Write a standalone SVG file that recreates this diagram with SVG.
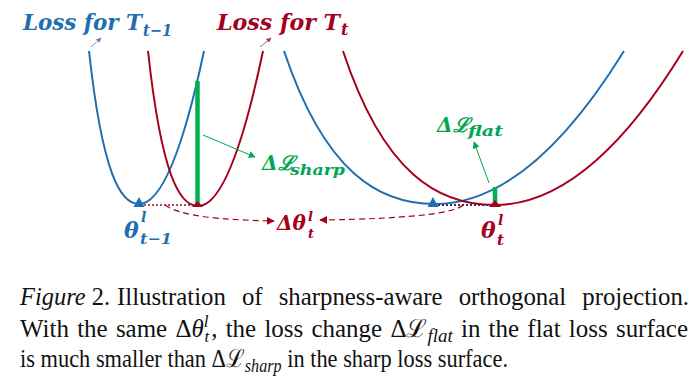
<svg xmlns="http://www.w3.org/2000/svg" width="691" height="384" viewBox="0 0 691 384">
<style>
.m{font-family:"DejaVu Serif","Liberation Serif",serif;font-weight:bold;font-style:italic}
.blue{fill:#1f6eb0}
.red{fill:#a5001e}
.green{fill:#00a651}
.cb{fill:none;stroke:#1f6eb0;stroke-width:2}
.cr{fill:none;stroke:#a5001e;stroke-width:2}
.cap{font-family:"Liberation Serif","DejaVu Serif",serif;font-size:25px;fill:#111}
</style>
<defs>
<marker id="ah" viewBox="0 0 10 10" refX="9" refY="5" markerWidth="7" markerHeight="7" orient="auto" markerUnits="userSpaceOnUse"><path d="M0 0L10 5L0 10z" fill="#00a651"/></marker>
<marker id="ar" viewBox="0 0 10 10" refX="9" refY="5" markerWidth="8" markerHeight="8" orient="auto" markerUnits="userSpaceOnUse"><path d="M0 0L10 5L0 10z" fill="#a5001e"/></marker>
<marker id="ab" viewBox="0 0 10 10" refX="9" refY="5" markerWidth="5" markerHeight="5" orient="auto" markerUnits="userSpaceOnUse"><path d="M0 0L10 5L0 10z" fill="#5a7fa8"/></marker>
<marker id="arr" viewBox="0 0 10 10" refX="9" refY="5" markerWidth="5" markerHeight="5" orient="auto" markerUnits="userSpaceOnUse"><path d="M0 0L10 5L0 10z" fill="#9a4040"/></marker>
</defs>
<rect width="691" height="384" fill="#fff"/>

<g id="curves">
<path id="blue-sharp" class="cb" d="M89 51C102.5 174 120.5 204 139 204Q171.5 204 204 51"/>
<path id="red-sharp" class="cr" d="M148 51C161.5 175 179.5 206 198 206Q230.5 206 263 51"/>
<path id="blue-flat" class="cb" d="M284 51C325 173 379 204 435 204Q529.5 204 624 51"/>
<path id="red-flat" class="cr" d="M343 51C384 175 439 205 495 205Q589 205 683 51"/>
</g>

<g id="connectors">
<line x1="197.5" y1="81" x2="197.5" y2="205" stroke="#00b050" stroke-width="4.5"/>
<line x1="495" y1="187" x2="495" y2="205" stroke="#00b050" stroke-width="4.5"/>
<line x1="203" y1="135" x2="255" y2="157" stroke="#00a651" stroke-width="1" marker-end="url(#ah)"/>
<line x1="489" y1="183" x2="474" y2="142" stroke="#00a651" stroke-width="1" marker-end="url(#ah)"/>
<line x1="144" y1="205" x2="193" y2="205" stroke="#8b1a2b" stroke-width="1.5" stroke-dasharray="2 2"/>
<line x1="438" y1="205" x2="490" y2="205" stroke="#3a2f5a" stroke-width="1.8" stroke-dasharray="2 2"/>
<path d="M165 205C180 216 220 220 274 221" fill="none" stroke="#a5001e" stroke-width="1.2" stroke-dasharray="6 4" marker-end="url(#ar)"/>
<path d="M463 205C455 214 400 219 320 220" fill="none" stroke="#a5001e" stroke-width="1.2" stroke-dasharray="6 4" marker-end="url(#ar)"/>
<line x1="91" y1="47" x2="101" y2="38" stroke="#5a7fa8" stroke-width="0.8" marker-end="url(#ab)"/>
<line x1="260" y1="47" x2="271" y2="38" stroke="#9a4040" stroke-width="0.8" marker-end="url(#arr)"/>
</g>

<g id="markers">
<polygon points="139,197 133.5,207 144.5,207" fill="#1f6eb0"/>
<polygon points="197.5,201 192,207 203,207" fill="#a5001e"/>
<polygon points="433,197 427.5,207 438.5,207" fill="#1f6eb0"/>
<polygon points="495,200 489,207 501,207" fill="#a5001e"/>
</g>

<g id="title-prev">
<text class="m blue" x="23" y="30" font-size="22" textLength="119" lengthAdjust="spacingAndGlyphs">Loss for T</text>
<text class="m blue" x="143" y="36" font-size="16" textLength="29" lengthAdjust="spacingAndGlyphs">t−1</text>
</g>
<g id="title-cur">
<text class="m red" x="217" y="30" font-size="22" textLength="123" lengthAdjust="spacingAndGlyphs">Loss for T</text>
<text class="m red" x="341" y="35" font-size="16">t</text>
</g>

<g id="label-sharp">
<text class="m green" x="262" y="170" font-size="20">Δℒ</text>
<text class="m green" x="290" y="175" font-size="15" textLength="55" lengthAdjust="spacingAndGlyphs">sharp</text>
</g>
<g id="label-flat">
<text class="m green" x="437" y="132" font-size="20">Δℒ</text>
<text class="m green" x="468" y="136" font-size="15" textLength="35" lengthAdjust="spacingAndGlyphs">flat</text>
</g>
<g id="label-dtheta">
<text class="m red" x="277" y="230" font-size="20">Δθ</text>
<text class="m red" x="308" y="221" font-size="13">l</text>
<text class="m red" x="308" y="238" font-size="13">t</text>
</g>
<g id="label-theta-prev">
<text class="m blue" x="124" y="238" font-size="22">θ</text>
<text class="m blue" x="141" y="222" font-size="14">l</text>
<text class="m blue" x="140" y="244" font-size="15" textLength="32" lengthAdjust="spacingAndGlyphs">t−1</text>
</g>
<g id="label-theta-cur">
<text class="m red" x="481" y="238" font-size="22">θ</text>
<text class="m red" x="498" y="225" font-size="14">l</text>
<text class="m red" x="497" y="245" font-size="15">t</text>
</g>

<g id="caption">
<text class="cap" x="20" y="305" textLength="90" lengthAdjust="spacingAndGlyphs"><tspan font-style="italic">Figure</tspan> 2.</text>
<text class="cap" x="117" y="305" word-spacing="10" textLength="572" lengthAdjust="spacingAndGlyphs">Illustration of sharpness-aware orthogonal projection.</text>
<text class="cap" x="20" y="337" word-spacing="2" textLength="668" lengthAdjust="spacingAndGlyphs">With the same Δ<tspan font-style="italic">θ</tspan><tspan font-style="italic" font-size="17" dy="-10">l</tspan><tspan font-style="italic" font-size="17" dx="-4" dy="15">t</tspan><tspan dx="2" dy="-5">, the loss change Δℒ</tspan><tspan font-style="italic" font-size="19" dy="5">flat</tspan><tspan dy="-5"> in the flat loss surface</tspan></text>
<text class="cap" x="20" y="367" textLength="488" lengthAdjust="spacingAndGlyphs">is much smaller than Δℒ<tspan font-style="italic" font-size="18" dy="5">sharp</tspan><tspan dy="-5"> in the sharp loss surface.</tspan></text>
</g>
</svg>
